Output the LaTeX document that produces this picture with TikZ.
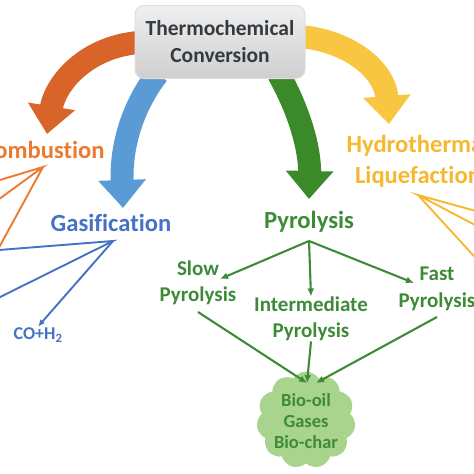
\documentclass[tikz,border=0pt]{standalone}
\usepackage{fontspec}
\setmainfont{Carlito}[Ligatures=CommonOff]
\usetikzlibrary{arrows.meta,shapes.symbols,backgrounds,calc}
\definecolor{cOrange}{HTML}{EC7A30}
\definecolor{cOrangeA}{HTML}{D9642A}
\definecolor{cBlue}{HTML}{4472C4}
\definecolor{cBlueA}{HTML}{5B9BD5}
\definecolor{cGreen}{HTML}{3D8B37}
\definecolor{cGreenA}{HTML}{3A8A2A}
\definecolor{cYellow}{HTML}{F5B82E}
\definecolor{cYellowA}{HTML}{F8C640}
\definecolor{cCloud}{HTML}{A9D48E}
\definecolor{cBoxText}{HTML}{333A40}
\tikzset{
  bigarrow/.style={line width=23pt,-{Triangle[length=28pt,width=46pt]}},
  thinline/.style={line width=1.9pt},
  greenarrow/.style={line width=2.1pt,draw=cGreen,-{Latex[length=8pt,width=7pt]}},
  title/.style={font=\bfseries\fontsize{24.6}{31}\selectfont,align=center,inner sep=0pt},
  sub/.style={font=\bfseries\fontsize{21}{26.5}\selectfont,align=center,inner sep=0pt,text=cGreen},
  tcbox/.style={rounded corners=9pt,top color=gray!12,bottom color=gray!38,draw=gray!25,line width=1pt,
     minimum width=170pt,minimum height=73pt,align=center,text=cBoxText,
     font=\bfseries\fontsize{21.5}{27}\selectfont}
}
\begin{document}
\begin{tikzpicture}[x=1pt,y=-1pt]
\useasboundingbox (0,0) rectangle (474,474);
\clip (0,0) rectangle (474,474);

\node[tcbox] (tc) at (220,42) {Thermochemical\\Conversion};

\begin{scope}[on background layer]
\draw[bigarrow,draw=cOrangeA] ($(tc.west)+(10,0)$) .. controls (85,45) and (55,85) .. (47,134);
\draw[bigarrow,draw=cBlueA] ($(tc.south west)+(23,-5)$) .. controls (130,110) and (121,150) .. (123,208);
\draw[bigarrow,draw=cGreenA] ($(tc.south east)+(-27,-5)$) .. controls (300,112) and (310,150) .. (309,199);
\draw[bigarrow,draw=cYellowA] ($(tc.east)+(-10,-6)$) .. controls (352,40) and (385,72) .. (389,124);
\end{scope}

% titles
\node[title,text=cOrange] (comb) at (43,150) {Combustion};
\node[title,text=cBlue] (gas) at (111,223) {Gasification};
\node[title,text=cGreen] (pyr) at (309,222) {Pyrolysis};
\node[title,text=cYellow] (htl) at (418,161) {Hydrothermal\\Liquefaction};

% combustion lines
\coordinate (ca) at (43,167);
\coordinate (c1) at (-20,186);
\coordinate (c2) at (-20,213);
\coordinate (c3) at (-10,264);
\draw[thinline,draw=cOrange] (c1) -- (ca) -- (c2) (ca) -- (c3);

% gasification lines
\coordinate (ga) at (113,241);
\coordinate (g1) at (-20,251.5);
\coordinate (g2) at (-20,307);
\draw[thinline,draw=cBlue] (g1) -- (ga) -- (g2);
\node[font=\bfseries\fontsize{18}{20}\selectfont,text=cBlue,inner sep=1pt] (co) at (38,335) {CO+H\textsubscript{2}};
\draw[thinline,draw=cBlue,-{Latex[length=7pt,width=6pt]}] (ga) -- (co.north);

% HTL lines
\coordinate (ha) at (418,195);
\coordinate (h1) at (494,216);
\coordinate (h2) at (494,235);
\coordinate (h3) at (494,278);
\draw[thinline,draw=cYellow] (h1) -- (ha) -- (h2) (ha) -- (h3);

% pyrolysis branches
\node[sub] (slow) at (198,283) {Slow\\Pyrolysis};
\node[sub] (inter) at (311,319) {Intermediate\\Pyrolysis};
\node[sub] (fast) at (437,289) {Fast\\Pyrolysis};
\node[cloud,cloud puffs=11,cloud puff arc=115,aspect=1,fill=cCloud,minimum width=99pt,minimum height=97pt,inner sep=0pt] (cl) at (306,420) {};
\node[sub,font=\bfseries\fontsize{18.5}{21}\selectfont] (prod) at (306,421) {Bio-oil\\Gases\\Bio-char};

\coordinate (pa) at (309,241);
\coordinate (ps) at (220,279);
\coordinate (pf) at (414,283);
\draw[greenarrow] (pa) -- (ps);
\draw[greenarrow] (pa) -- (inter.north);
\draw[greenarrow] (pa) -- (pf);

\coordinate (s0) at (198,312);
\coordinate (f0) at (437,317);
\coordinate (e1) at (307,383);
\coordinate (e2) at (316,383);
\draw[greenarrow] (s0) -- (e1);
\draw[greenarrow] (inter.south) -- (e1);
\draw[greenarrow] (f0) -- (e2);
\end{tikzpicture}
\end{document}
